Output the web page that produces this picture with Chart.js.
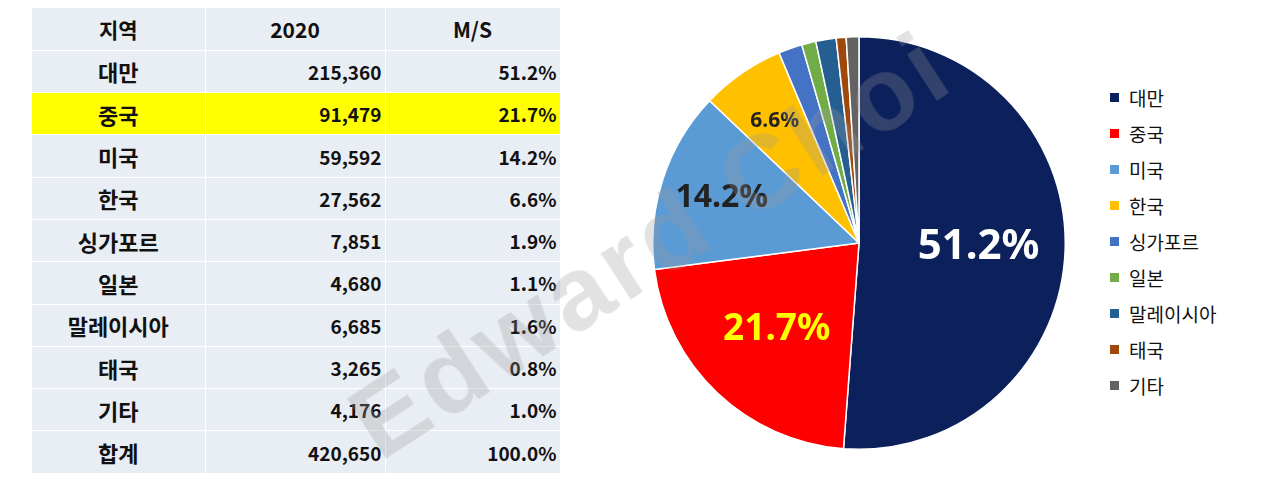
<!DOCTYPE html>
<html><head><meta charset="utf-8">
<script src="https://cdn.jsdelivr.net/npm/chart.js@4"></script>
<style>
body{margin:0;width:1280px;height:477px;background:#fff;position:relative;overflow:hidden;font-family:"Noto Sans CJK KR","Noto Sans",sans-serif;}
table{position:absolute;left:32px;top:8px;border-collapse:collapse;}
td{background:#e9edf4;height:42.3px;padding:0 3px;font-weight:bold;font-size:19px;color:#111;border-bottom:1px solid #fff;border-right:1px solid #fff;box-sizing:border-box;}
td.c1{width:173px;text-align:center;font-size:22px;}
td.c2{width:180px;text-align:right;}
td.c3{width:175px;text-align:right;}
tr.hd td{text-align:center;font-size:21px;}
tr.hl td{background:#ffff00;}
#pie{position:absolute;left:652px;top:36px;width:414px;height:414px;}
#leg{position:absolute;left:1110px;top:79px;font-size:19px;color:#111;}
#leg div{height:36px;display:flex;align-items:center;}
#leg span{display:inline-block;width:9px;height:9px;margin-right:10px;}
#wm{position:absolute;left:305px;top:185px;font-family:"Liberation Sans",sans-serif;font-weight:bold;font-size:104px;letter-spacing:5px;color:rgba(150,150,150,0.28);transform:rotate(-33deg);transform-origin:center;white-space:nowrap;pointer-events:none;}
</style></head><body>
<table id="tbl"></table>
<div id="pie"><canvas id="c"></canvas></div>
<div id="leg"></div>
<div id="wm">Edward Choi</div>
<script>
const regions=["대만","중국","미국","한국","싱가포르","일본","말레이시아","태국","기타"];
const values2020=[215360,91479,59592,27562,7851,4680,6685,3265,4176];
const shares=["51.2%","21.7%","14.2%","6.6%","1.9%","1.1%","1.6%","0.8%","1.0%"];
const colors=["#0c215c","#ff0000","#5b9bd5","#ffc000","#4472c4","#70ad47","#255e91","#9e480e","#636363"];
const total="420,650";
const tbl=document.getElementById('tbl');
let h='<tr class="hd"><td class="c1">지역</td><td class="c2" style="text-align:center">2020</td><td class="c3" style="text-align:center">M/S</td></tr>';
regions.forEach((r,i)=>{h+=`<tr class="${i==1?'hl':''}"><td class="c1">${r}</td><td class="c2">${values2020[i].toLocaleString('en-US')}</td><td class="c3">${shares[i]}</td></tr>`;});
h+=`<tr><td class="c1">합계</td><td class="c2">${total}</td><td class="c3">100.0%</td></tr>`;
tbl.innerHTML=h;
document.getElementById('leg').innerHTML=regions.map((r,i)=>`<div><span style="background:${colors[i]}"></span>${r}</div>`).join('');
const labelStyle=[{c:"#fff",s:42},{c:"#ffff00",s:37},{c:"#222",s:32},{c:"#222",s:21}];
const lblPlugin={id:'lbl',afterDatasetsDraw(ch){const ctx=ch.ctx;ch.getDatasetMeta(0).data.forEach((a,i)=>{if(i>3)return;const f=[0.58,0.58,0.7,0.72][i];const ang=(a.startAngle+a.endAngle)/2;const x=a.x+Math.cos(ang)*a.outerRadius*f,y=a.y+Math.sin(ang)*a.outerRadius*f;ctx.save();ctx.font=`bold ${labelStyle[i].s}px "Noto Sans",sans-serif`;ctx.fillStyle=labelStyle[i].c;ctx.textAlign='center';ctx.textBaseline='middle';ctx.fillText(shares[i],x,y);ctx.restore();});}};
new Chart(document.getElementById('c'),{type:'pie',data:{labels:regions,datasets:[{data:values2020,backgroundColor:colors,borderColor:'#fff',borderWidth:1.5}]},options:{responsive:true,maintainAspectRatio:false,animation:false,plugins:{legend:{display:false},tooltip:{enabled:false}}},plugins:[lblPlugin]});
</script></body></html>
